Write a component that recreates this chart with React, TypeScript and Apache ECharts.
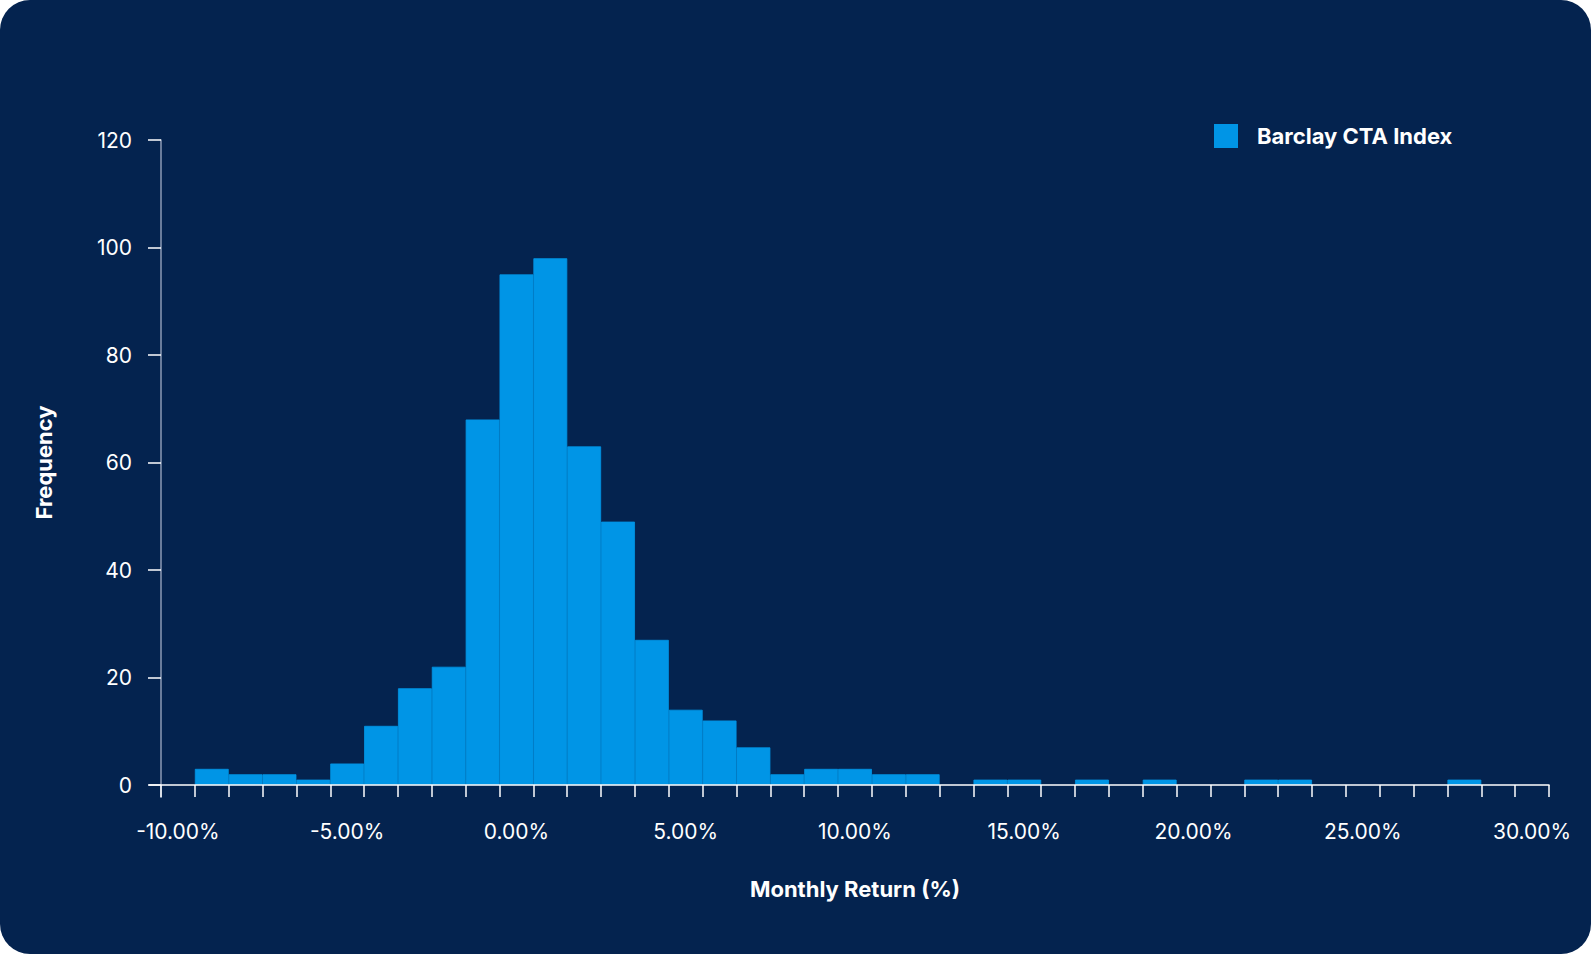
import React, { useEffect, useRef } from "react";
import * as echarts from "echarts";

const binStarts: number[] = [
  -10, -9, -8, -7, -6, -5, -4, -3, -2, -1, 0, 1, 2, 3, 4, 5, 6, 7, 8, 9, 10,
  11, 12, 13, 14, 15, 16, 17, 18, 19, 20, 21, 22, 23, 24, 25, 26, 27, 28, 29, 30,
];
const frequencies: number[] = [
  0, 3, 2, 2, 1, 4, 11, 18, 22, 68, 95, 98, 63, 49, 27, 14, 12, 7, 2, 3, 3,
  2, 2, 0, 1, 1, 0, 1, 0, 1, 0, 0, 1, 1, 0, 0, 0, 0, 1, 0, 0,
];
const seriesName = "Barclay CTA Index";
const xTitle = "Monthly Return (%)";
const yTitle = "Frequency";

const BG = "#04234F";
const BAR = "#0095E6";
const FONT = "Inter, 'Noto Sans', sans-serif";

export default function App() {
  const ref = useRef<HTMLDivElement>(null);
  useEffect(() => {
    document.body.style.margin = "0";
    document.body.style.background = "#ffffff";
    if (!ref.current) return;
    const chart = echarts.init(ref.current, null, { renderer: "svg" });
    const categories = binStarts.map((v) => v.toFixed(2) + "%");
    chart.setOption({
      animation: false,
      backgroundColor: "transparent",
      textStyle: { fontFamily: FONT },
      grid: { left: 161, right: 42, top: 140, bottom: 169, containLabel: false },
      legend: {
        show: true,
        left: 1209,
        top: 119,
        icon: "rect",
        itemWidth: 24,
        itemHeight: 24,
        data: [seriesName],
        itemStyle: { borderWidth: 0 },
        textStyle: {
          color: "#ffffff",
          fontSize: 22,
          fontWeight: "bold",
          fontFamily: FONT,
          padding: [0, 0, 0, 14],
        },
      },
      xAxis: {
        type: "category",
        data: categories,
        boundaryGap: true,
        name: xTitle,
        nameLocation: "middle",
        nameGap: 93,
        nameTextStyle: { color: "#ffffff", fontSize: 22, fontWeight: "bold", fontFamily: FONT },
        axisLine: { show: true, lineStyle: { color: "#ffffff", width: 1.5 } },
        axisTick: {
          show: true,
          interval: 0,
          alignWithLabel: false,
          length: 12,
          lineStyle: { color: "#ffffff", width: 1.5 },
        },
        axisLabel: {
          interval: 4,
          color: "#ffffff",
          fontSize: 21,
          margin: 36,
          fontFamily: FONT,
        },
        splitLine: { show: false },
        z: 5,
      },
      yAxis: {
        type: "value",
        min: 0,
        max: 120,
        interval: 20,
        name: yTitle,
        nameLocation: "middle",
        nameRotate: 90,
        nameGap: 106,
        nameTextStyle: { color: "#ffffff", fontSize: 22, fontWeight: "bold", fontFamily: FONT },
        axisLine: { show: true, lineStyle: { color: "#8C9BB4", width: 1.5 } },
        axisTick: { show: true, length: 13, lineStyle: { color: "#ffffff", width: 1.5 } },
        axisLabel: { color: "#ffffff", fontSize: 21, margin: 29, fontFamily: FONT },
        splitLine: { show: false },
      },
      graphic: [
        {
          type: "line",
          shape: { x1: 149, y1: 785, x2: 161, y2: 785 },
          style: { stroke: "#ffffff", lineWidth: 1.5 },
        },
        {
          type: "line",
          shape: { x1: 161, y1: 785, x2: 161, y2: 798 },
          style: { stroke: "#8C9BB4", lineWidth: 1.5 },
        },
      ],
      series: [
        {
          name: seriesName,
          type: "bar",
          data: frequencies.map((v) => (v === 0 ? null : v)),
          barCategoryGap: "0%",
          itemStyle: { color: BAR, borderColor: BAR, borderWidth: 0.8 },
        },
      ],
    });
    return () => chart.dispose();
  }, []);
  return (
    <div
      style={{
        position: "fixed",
        left: 0,
        top: 0,
        width: 1591,
        height: 954,
        background: BG,
        borderRadius: 30,
        overflow: "hidden",
      }}
    >
      <div ref={ref} style={{ width: 1591, height: 954 }} />
    </div>
  );
}
